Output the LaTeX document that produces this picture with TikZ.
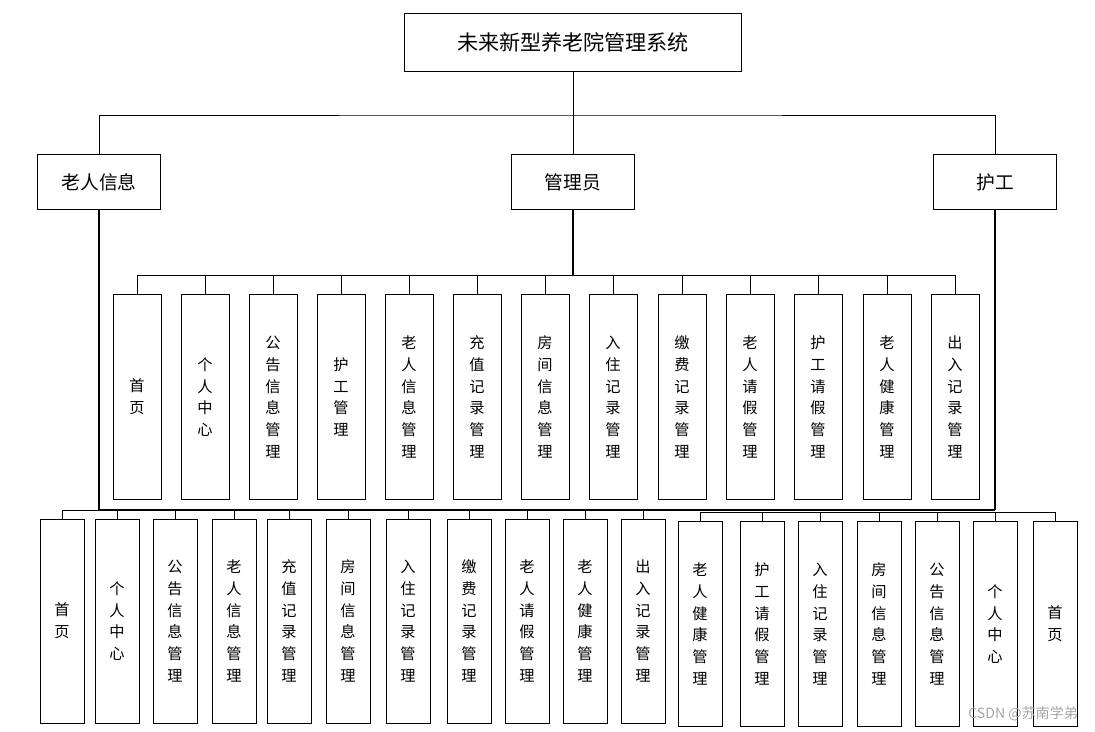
\documentclass[tikz,border=0pt]{standalone}
\usepackage{fontspec}
\newfontfamily\cjk{Noto Sans CJK SC}
\usetikzlibrary{positioning}

\begin{document}
\begin{tikzpicture}[x=0.03cm, y=-0.03cm,
  box/.style={draw, font=\cjk\fontsize{16}{18}\selectfont, inner sep=0pt},
  vbox/.style={draw, font=\cjk\fontsize{13}{18.5}\selectfont, inner sep=0pt, align=center},
  link/.style={draw, line width=0.6pt},
  thick link/.style={draw, line width=1.2pt},
]
\useasboundingbox (0,0) rectangle (1095,732);

% Top and second level
\node[box, font=\cjk\fontsize{18}{20}\selectfont, minimum width=337*0.03cm, minimum height=58*0.03cm] (root) at (573,42) {未来新型养老院管理系统};
\node[box, minimum width=123*0.03cm, minimum height=55*0.03cm] (elder) at (99,182) {老人信息};
\node[box, minimum width=123*0.03cm, minimum height=55*0.03cm] (admin) at (573,182) {管理员};
\node[box, minimum width=123*0.03cm, minimum height=55*0.03cm] (nurse) at (995,182) {护工};

\draw[link] (root.south) -- (573,115) coordinate (top bus);
\draw[link] (elder.north) |- (top bus) -| (nurse.north);
\draw[link] (top bus) -- (admin.north);

% Admin children
\foreach \x/\t [count=\i] in {137/首\\页, 205/个\\人\\中\\心, 273/公\\告\\信\\息\\管\\理, 341/护\\工\\管\\理,
  409/老\\人\\信\\息\\管\\理, 477/充\\值\\记\\录\\管\\理, 545/房\\间\\信\\息\\管\\理, 613/入\\住\\记\\录\\管\\理,
  682/缴\\费\\记\\录\\管\\理, 750/老\\人\\请\\假\\管\\理, 818/护\\工\\请\\假\\管\\理, 887/老\\人\\健\\康\\管\\理,
  955/出\\入\\记\\录\\管\\理} {
  \node[vbox, minimum width=48*0.03cm, minimum height=205*0.03cm] (a\i) at (\x,397) {\t};
  \draw[link] (a\i.north) -- (\x,275);
}
\draw[thick link] (admin.south) -- (573,275);
\draw[link] (a1.north |- 0,275) -- (a13.north |- 0,275);

% Elder and nurse trunk
\draw[thick link] (elder.south) |- (995,510) coordinate (nurse bus);
\draw[thick link] (nurse.south) -- (nurse bus);

% Elder children
\foreach \x/\t [count=\i] in {62/首\\页, 117/个\\人\\中\\心, 175/公\\告\\信\\息\\管\\理, 234/老\\人\\信\\息\\管\\理,
  289/充\\值\\记\\录\\管\\理, 348/房\\间\\信\\息\\管\\理, 408/入\\住\\记\\录\\管\\理, 469/缴\\费\\记\\录\\管\\理,
  527/老\\人\\请\\假\\管\\理, 585/老\\人\\健\\康\\管\\理, 643/出\\入\\记\\录\\管\\理} {
  \node[vbox, minimum width=44*0.03cm, minimum height=204*0.03cm] (e\i) at (\x,621) {\t};
  \draw[link] (e\i.north) -- (\x,510);
}
\draw[link] (e1.north |- 0,510) -- (e11.north |- 0,510);

% Nurse children
\foreach \x/\t [count=\i] in {700/老\\人\\健\\康\\管\\理, 762/护\\工\\请\\假\\管\\理, 820/入\\住\\记\\录\\管\\理,
  879/房\\间\\信\\息\\管\\理, 937/公\\告\\信\\息\\管\\理, 995/个\\人\\中\\心, 1055/首\\页} {
  \node[vbox, minimum width=44*0.03cm, minimum height=205*0.03cm] (n\i) at (\x,624) {\t};
  \draw[link] (n\i.north) -- (\x,512);
}
\draw[link] (n1.north |- 0,512) -- (n7.north |- 0,512);

\node[font=\cjk\fontsize{12}{14}\selectfont, text=gray!70, anchor=east] (mark) at (1082,714) {CSDN @苏南学弟};
\end{tikzpicture}
\end{document}
